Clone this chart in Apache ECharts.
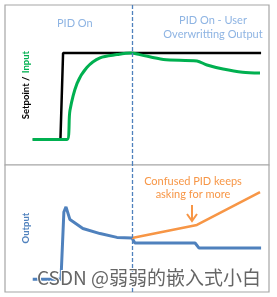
<!DOCTYPE html>
<html>
<head>
<meta charset="utf-8">
<style>
  html, body { margin: 0; padding: 0; background: #fff; }
  #chart { width: 277px; height: 297px; }
</style>
<script src="https://cdn.jsdelivr.net/npm/echarts@6/dist/echarts.min.js"></script>
</head>
<body>
<div id="chart"></div>
<script>
// time runs 0..100 across the plot, values 0..100 in each panel
const setpoint = [[10.5, 16], [21, 16], [22, 70], [97, 70]];
const input = [[10.5, 16], [23.5, 16], [24.6, 34], [27.3, 51], [31, 61], [36, 67], [42.4, 69], [47.7, 70],
    [51, 69], [60, 66], [72.7, 65], [76.5, 62.5], [82.6, 60], [90, 58], [96.6, 57.5]];
const output = [[10.5, 10], [21.2, 10], [22.3, 63], [23.1, 67], [24.6, 57], [29.5, 50], [36, 46], [42.4, 43],
    [48.1, 42.5], [48.5, 44], [49.2, 38.6], [72, 38.6], [73.5, 34.6], [97, 34.6]];
const confused = [[48.1, 42.5], [72.7, 52.8], [96.6, 78.7]];
const userTakeover = 48.1;

const chart = echarts.init(document.getElementById('chart'));
const font = 'Lato, "Noto Sans", sans-serif';
const dash = {
    silent: true, symbol: 'none', label: { show: false },
    lineStyle: { color: '#4F81BD', type: [4, 2], width: 1.3 },
    data: [{ xAxis: userTakeover }]
};

chart.setOption({
    animation: false,
    grid: [
        { left: 5, right: 8, top: 5, height: 160, show: true, borderColor: '#a6a6a6', borderWidth: 1.2, backgroundColor: '#fff' },
        { left: 5, right: 8, top: 165, height: 127, show: true, borderColor: '#a6a6a6', borderWidth: 1.2, backgroundColor: '#fff' }
    ],
    xAxis: [
        { type: 'value', gridIndex: 0, min: 0, max: 100, show: false },
        { type: 'value', gridIndex: 1, min: 0, max: 100, show: false }
    ],
    yAxis: [
        { type: 'value', gridIndex: 0, min: 0, max: 100, show: false },
        { type: 'value', gridIndex: 1, min: 0, max: 100, show: false }
    ],
    series: [
        { type: 'line', xAxisIndex: 0, yAxisIndex: 0, data: setpoint, symbol: 'none',
          lineStyle: { color: '#000', width: 2.5 }, markLine: dash },
        { type: 'line', xAxisIndex: 0, yAxisIndex: 0, data: input, symbol: 'none', smooth: 0.3,
          lineStyle: { color: '#00B050', width: 3 } },
        { type: 'line', xAxisIndex: 1, yAxisIndex: 1, data: output, symbol: 'none',
          lineStyle: { color: '#4F81BD', width: 3 }, markLine: dash },
        { type: 'line', xAxisIndex: 1, yAxisIndex: 1, data: confused, symbol: 'none',
          lineStyle: { color: '#F79646', width: 2.5 } }
    ],
    graphic: [
        { type: 'text', left: 57, top: 18, style: { text: 'PID On', fill: '#8EB4E3', font: '11px ' + font } },
        { type: 'text', x: 213, y: 13, style: { text: 'PID On - User\nOverwritting Output', fill: '#8EB4E3',
          font: '11px ' + font, align: 'center', lineHeight: 14 } },
        { type: 'text', x: 193, y: 175, style: { text: 'Confused PID keeps\nasking for more', fill: '#F79646',
          font: '11px ' + font, align: 'center', lineHeight: 13 } },
        { type: 'line', shape: { x1: 192, y1: 205, x2: 192, y2: 220 }, style: { stroke: '#F79646', lineWidth: 2 } },
        { type: 'polyline', shape: { points: [[187, 214], [192, 221], [197, 214]] }, style: { stroke: '#F79646', lineWidth: 2, fill: null } },
        { type: 'text', x: 26, y: 85, rotation: Math.PI / 2, style: {
            text: '{a|Setpoint /} {b|Input}', align: 'center', verticalAlign: 'middle',
            rich: { a: { fill: '#000', font: 'bold 9.5px ' + font }, b: { fill: '#00B050', font: 'bold 9.5px ' + font } } } },
        { type: 'text', x: 26, y: 228, rotation: Math.PI / 2, style: {
            text: 'Output', fill: '#4F81BD', font: 'bold 9.5px ' + font, align: 'center', verticalAlign: 'middle' } },
        { type: 'text', x: 149, y: 278, z: 100, style: {
            text: 'CSDN @弱弱的嵌入式小白', fill: '#666', font: '19px "Noto Sans CJK SC", sans-serif',
            align: 'center', verticalAlign: 'middle', stroke: '#fff', lineWidth: 2 } }
    ]
});
</script>
</body>
</html>
